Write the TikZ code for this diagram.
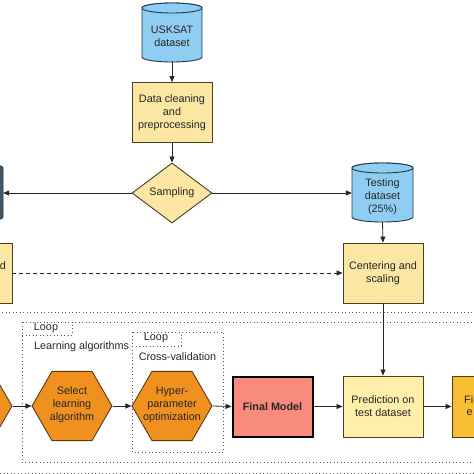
\documentclass[tikz,border=0pt]{standalone}
\usepackage{fontspec}
\setmainfont{Liberation Sans}
\usetikzlibrary{shapes.geometric,arrows.meta}
\definecolor{cylfill}{HTML}{8FCDF2}
\definecolor{cylline}{HTML}{22384A}
\definecolor{cyldark}{HTML}{45586A}
\definecolor{yboxc}{HTML}{FCE6A3}
\definecolor{ylight}{HTML}{FFEFAA}
\definecolor{ydark}{HTML}{F8BE33}
\definecolor{hexfill}{HTML}{F0911F}
\definecolor{hexline}{HTML}{5A3A12}
\definecolor{salmon}{HTML}{F98A7E}
\definecolor{boxline}{HTML}{4A4020}
\definecolor{dotc}{HTML}{555555}
\begin{document}
\begin{tikzpicture}[x=1pt,y=-1pt,
  every node/.style={font=\fontsize{10.8}{13}\selectfont, text=black!85, inner sep=0pt, align=center},
  ybox/.style={rectangle, draw=boxline, fill=yboxc, line width=0.9pt, minimum width=80pt, minimum height=60pt},
  cylnode/.style={rectangle, minimum width=60pt, minimum height=50pt},
  cylpath/.style={draw=cylline, fill=cylfill, line width=0.9pt},
  hexa/.style={regular polygon, regular polygon sides=6, minimum size=80pt, draw=hexline, fill=hexfill, line width=0.9pt},
  arr/.style={-{Triangle[length=6pt,width=5pt]}, line width=0.8pt, draw=black!85},
  dashedarr/.style={arr, dash pattern=on 4pt off 3pt},
  dotbox/.style={draw=dotc, line width=0.9pt, dash pattern=on 0.9pt off 2.6pt},
]
\useasboundingbox (0,0) rectangle (474,474);
\clip (0,0) rectangle (474,474);
\fill[white] (0,0) rectangle (474,474);

% cylinders
\draw[cylpath] (142,8) -- (142,57) arc[start angle=180,end angle=360,x radius=30pt,y radius=5pt] -- (202,8) arc[start angle=0,end angle=180,x radius=30pt,y radius=5pt] -- cycle;
\draw[cylpath] (172,8) ellipse[x radius=30pt,y radius=5pt];
\node[cylnode] (usk) at (172,36) {USKSAT\\dataset};

\draw[cylpath] (352,168) -- (352,217) arc[start angle=180,end angle=360,x radius=30.5pt,y radius=5pt] -- (413,168) arc[start angle=0,end angle=180,x radius=30.5pt,y radius=5pt] -- cycle;
\draw[cylpath] (382.5,168) ellipse[x radius=30.5pt,y radius=5pt];
\node[cylnode, minimum width=61pt] (test) at (382.5,197) {Testing\\dataset\\(25\%)};

\draw[cylpath, fill=cyldark] (-57,168) -- (-57,217) arc[start angle=180,end angle=360,x radius=30pt,y radius=5pt] -- (3,168) arc[start angle=0,end angle=180,x radius=30pt,y radius=5pt] -- cycle;
\node[cylnode] (train) at (-27,197) {};

% boxes
\node[ybox] (clean) at (172,112.5) {Data cleaning\\and\\preprocessing};
\node[diamond, draw=boxline, fill=yboxc, line width=0.9pt, minimum width=80pt, minimum height=60pt] (samp) at (172,193) {Sampling};
\node[ybox] (cent) at (383,273) {Centering and\\scaling};
\node[ybox] (lbox) at (-28,273) {};
\node (lboxT) at (3,266) {d};

% dotted frames
\draw[dotbox] (-10,312) rectangle (490,473);
\draw[dotbox] (22,322) rectangle (490,462);
\draw[dotbox] (22,335) -- (72,335) -- (72,322);
\draw[dotbox] (132,332) rectangle (223,452);
\draw[dotbox] (132,346) -- (181,346) -- (181,332);
\node (loop1) at (46,328) {Loop};
\node[anchor=west] (la) at (34,347) {Learning algorithms};
\node (loop2) at (156,338) {Loop};
\node (cvT) at (177.5,357) {Cross-validation};

% bottom row
\node[hexa] (lhex) at (-28,406) {};
\node[hexa] (sel) at (72,406) {};
\node (selT) at (72,405) {Select\\learning\\algorithm};
\node[hexa] (hyp) at (172,406) {};
\node (hypT) at (172,405) {Hyper-\\parameter\\optimization};
\node[rectangle, draw=black, fill=salmon, line width=2pt, minimum width=80pt, minimum height=60pt, font=\fontsize{10.8}{13}\selectfont\bfseries] (final) at (272.5,406.5) {Final Model};
\node[ybox, fill=ylight, minimum height=61pt] (pred) at (383,406.5) {Prediction on\\test dataset};
\node[ybox, fill=ydark, minimum height=61pt] (feval) at (492,406.5) {};
\node[anchor=west] (fevalA) at (464,400) {Fi};
\node[anchor=west] (fevalB) at (466.5,413) {e};

% connectors
\draw[arr] (usk.south) -- (clean.north);
\draw[arr] (clean.south) -- (samp.north);
\draw[arr] (samp.west) -- (samp.west -| train.east);
\draw[arr] (samp.east) -- (samp.east -| test.west);
\draw[arr] (test.south) -- (cent.north);
\draw[dashedarr] (lbox.east) -- (cent.west);
\draw[arr] (cent.south) -- (pred.north);
\draw[arr] (lhex.east) -- (sel.west);
\draw[arr] (sel.east) -- (hyp.west);
\draw[arr] (hyp.east) -- (final.west);
\draw[arr] (final.east) -- (pred.west);
\draw[arr] (pred.east) -- (feval.west);
\end{tikzpicture}
\end{document}
